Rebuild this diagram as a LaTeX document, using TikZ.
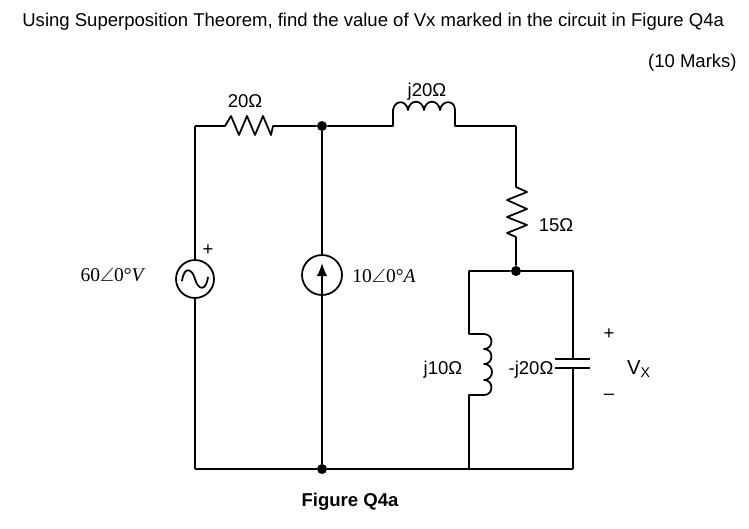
\documentclass[tikz,border=0pt]{standalone}
\usepackage{amsmath}
\usepackage{amssymb}
\usepackage{fontspec}
\setmainfont{Liberation Sans}
\newfontfamily\seriffam{Liberation Serif}
\usetikzlibrary{arrows.meta}

\tikzset{
  wire/.style={line width=1pt, line join=round},
  dot/.style={circle, fill=black, inner sep=0pt, minimum size=0.2cm},
  source/.style={circle, draw, line width=1pt, minimum size=0.76cm, inner sep=0pt},
  lbl/.style={inner sep=0pt, font=\fontsize{10.55}{12}\selectfont},
  val/.style={inner sep=0pt, font=\fontsize{11.1}{13}\selectfont\seriffam},
  plate/.style={line width=1pt}
}

\begin{document}
\begin{tikzpicture}[x=0.02cm, y=-0.02cm]
  \useasboundingbox (0,0) rectangle (749,528);

  % text
  \node[lbl, anchor=west] (title) at (22,22) {Using Superposition Theorem, find the value of Vx marked in the circuit in Figure Q4a};
  \node[lbl, anchor=east] (marks) at (737,63) {(10 Marks)};
  \node[lbl, font=\fontsize{10.55}{12}\selectfont\bfseries] (fig) at (350,502) {Figure Q4a};

  % corners and junctions
  \coordinate (tl) at (195,126);
  \coordinate (bl) at (195,469);
  \coordinate (tr) at (516,126);
  \node[dot] (top) at (322,126) {};
  \node[dot] (bot) at (322,469) {};
  \node[dot] (mid) at (516,271) {};
  \coordinate (ml) at (469,271);
  \coordinate (mr) at (573,271);
  \coordinate (br) at (573,469);
  \coordinate (bm) at (469,469);

  % sources
  \node[source] (vs) at (195,279) {};
  \node[source, minimum size=0.8cm] (cs) at (322,275) {};
  \coordinate (cstip) at (322,263);
  \draw[wire] (tl) -- (vs);
  \draw[wire] (vs) -- (bl);
  \draw[wire] (top) -- (cs);
  \draw[wire] (cs) -- (bot);
  \draw[wire] (bl) -- (bot) -- (bm) -- (br);
  \draw[wire] (182,281) .. controls (184,266) and (192,268) .. (195,279) .. controls (198,290) and (206,292) .. (208,277);
  \draw[wire, -{Latex[length=7.5pt,width=6pt]}] (cs.south) -- (cstip);

  % 20 ohm
  \coordinate (r1a) at (225,126);
  \coordinate (r1b) at (273,126);
  \draw[wire] (tl) -- (r1a) -- (231,116) -- (239,135) -- (247,116) -- (255,135) -- (263,116) -- (271,135) -- (r1b) -- (top);

  % j20 ohm
  \coordinate (l1a) at (393,126);
  \coordinate (l1b) at (455,126);
  \draw[wire] (top) -- (l1a) -- (393,110)
    to[out=80,in=100,looseness=1.8] (408,110)
    to[out=80,in=100,looseness=1.8] (424,110)
    to[out=80,in=100,looseness=1.8] (440,110)
    to[out=80,in=90,looseness=1.8] (455,110) -- (l1b) -- (tr);

  % 15 ohm
  \coordinate (r2a) at (516,187);
  \coordinate (r2b) at (516,237);
  \draw[wire] (tr) -- (r2a) -- (527,192) -- (507,200) -- (527,209) -- (507,217) -- (527,225) -- (507,233) -- (r2b) -- (mid);

  % j10 ohm
  \coordinate (l2a) at (469,334);
  \coordinate (l2b) at (469,395);
  \draw[wire] (mid) -- (ml) -- (l2a) -- (484,334)
    to[out=0,in=0,looseness=1.7] (484,349)
    to[out=0,in=0,looseness=1.7] (484,364)
    to[out=0,in=0,looseness=1.7] (484,380)
    to[out=0,in=0,looseness=1.7] (484,395) -- (l2b) -- (bm);

  % -j20 ohm
  \coordinate (c1) at (573,359);
  \coordinate (c2) at (573,368);
  \coordinate (c1a) at (555,359);
  \coordinate (c1b) at (590,359);
  \coordinate (c2a) at (555,368);
  \coordinate (c2b) at (590,368);
  \draw[wire] (mid) -- (mr) -- (c1);
  \draw[wire] (c2) -- (br);
  \draw[plate] (c1a) -- (c1b);
  \draw[plate] (c2a) -- (c2b);

  % labels
  \node[lbl] (lr1) at (245,101) {20Ω};
  \node[lbl] (ll1) at (427,92) {j20Ω};
  \node[lbl] (lr2) at (556,225) {15Ω};
  \node[lbl] (ll2) at (443,370) {j10Ω};
  \node[lbl] (lc) at (531,370) {-j20Ω};
  \node[val] (lvs) at (113,275) {60$\angle$0°\textit{V}};
  \node[val] (lcs) at (384,276) {10$\angle$0°\textit{A}};
  \node[lbl] (plus) at (208,250) {+};
  \node[lbl] (vp) at (609,334) {+};
  \node[lbl] (vm) at (609,397) {--};
  \node[lbl, font=\fontsize{11.5}{13}\selectfont] (vx) at (639,369) {V\textsubscript{X}};
\end{tikzpicture}
\end{document}
